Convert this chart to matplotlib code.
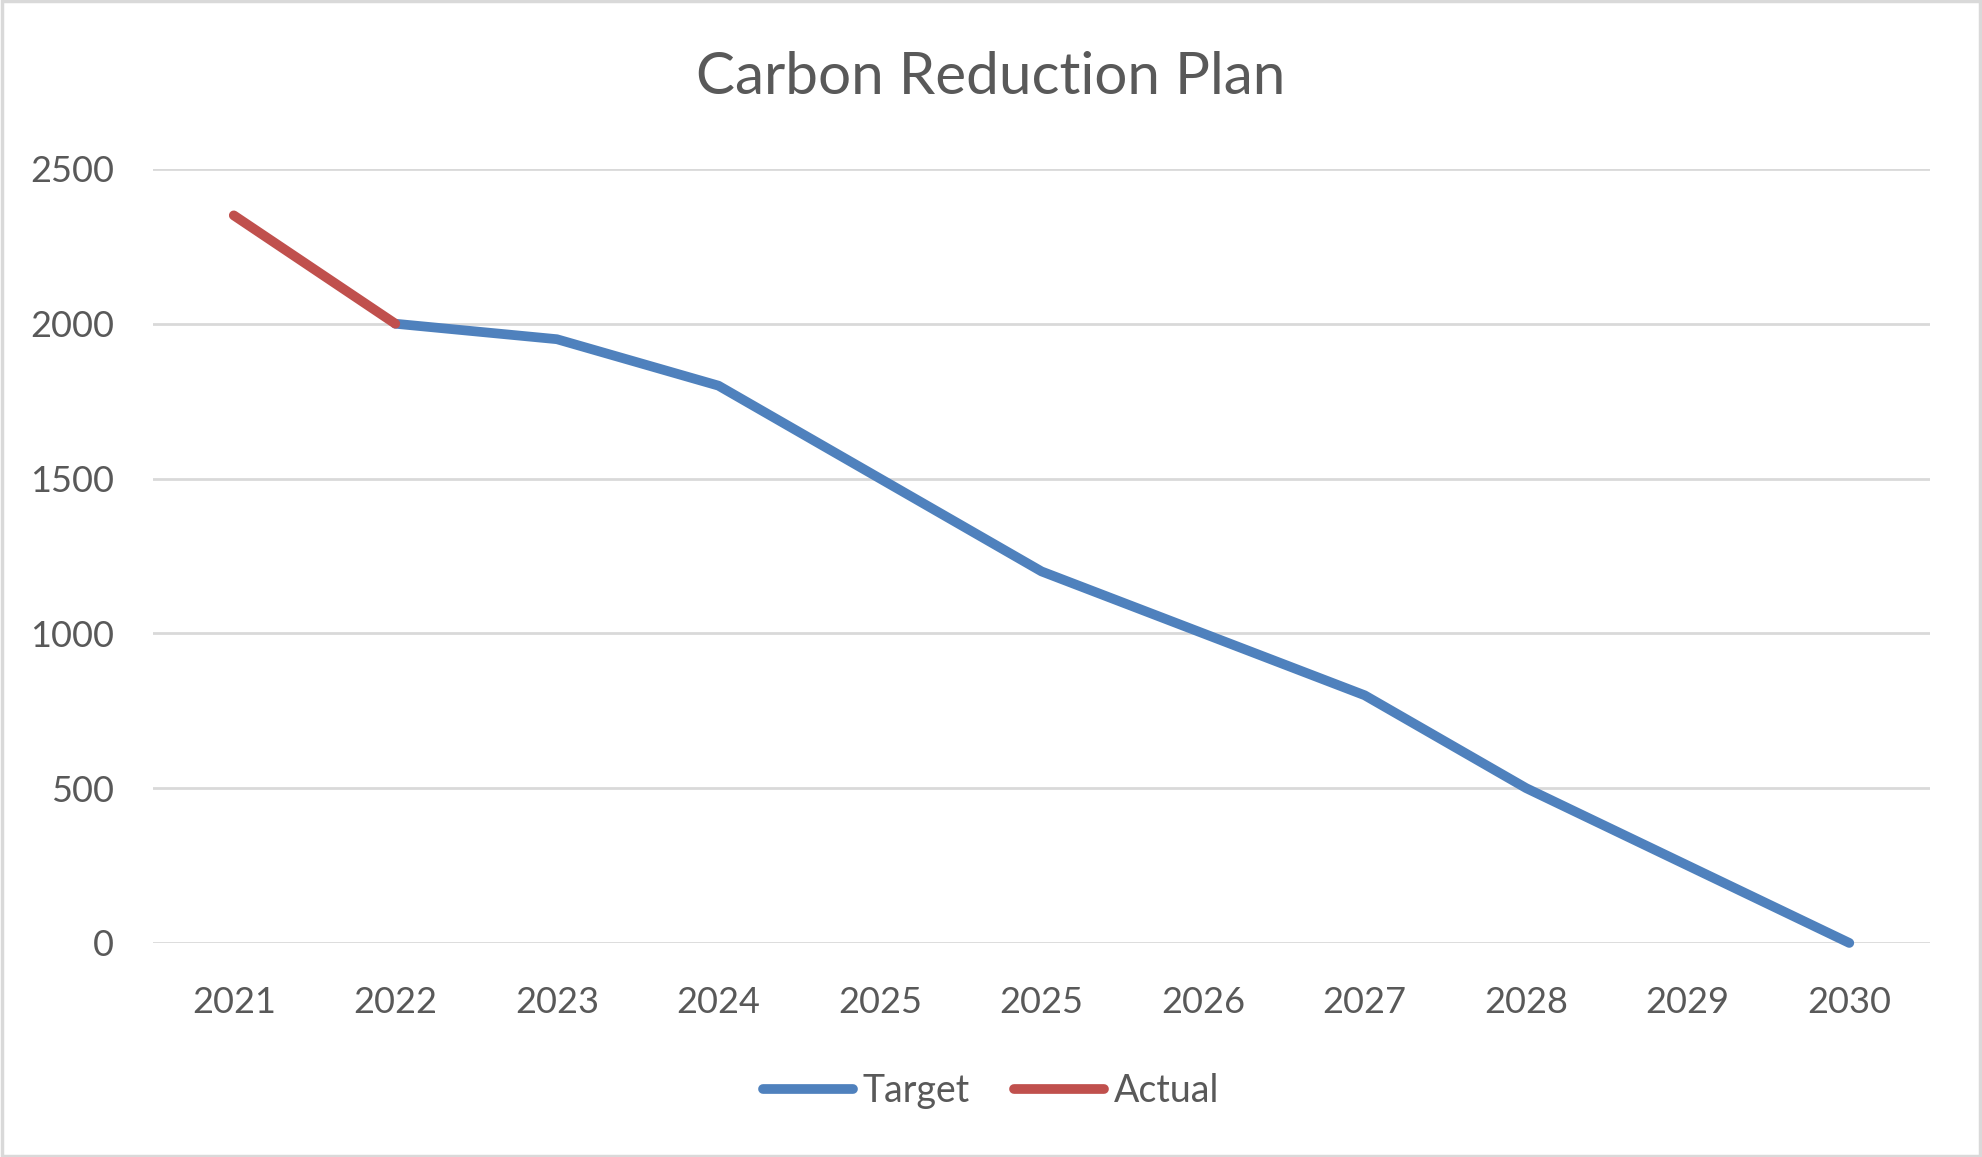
import matplotlib.pyplot as plt
from matplotlib.patches import Rectangle

# data
years = ['2021', '2022', '2023', '2024', '2025', '2025', '2026', '2027', '2028', '2029', '2030']
target = [None, 2000, 1950, 1800, 1500, 1200, 1000, 800, 500, 250, 0]
actual = [2350, 2000, None, None, None, None, None, None, None, None, None]

BLUE = '#4F81BD'
RED = '#C0504D'
GRID = '#D9D9D9'
TEXT = '#595959'

plt.rcParams['font.family'] = ['Lato', 'DejaVu Sans']

fig = plt.figure(figsize=(19.82, 11.57), dpi=100)
ax = fig.add_axes([0.0772, 0.185, 0.8966, 0.669])

x = list(range(len(years)))
t = [float('nan') if v is None else v for v in target]
a = [float('nan') if v is None else v for v in actual]
ax.plot(x, t, color=BLUE, lw=7, solid_capstyle='round', solid_joinstyle='round', label='Target')
ax.plot(x, a, color=RED, lw=7, solid_capstyle='round', solid_joinstyle='round', label='Actual')

ax.set_xlim(-0.5, len(years) - 0.5)
ax.set_ylim(0, 2500)
ax.set_yticks(range(0, 2501, 500))
ax.set_xticks(x)
ax.set_xticklabels(years)
ax.grid(axis='y', color=GRID, lw=2)
ax.set_axisbelow(True)
for s in ax.spines.values():
    s.set_visible(False)
ax.tick_params(length=0, labelsize=26, colors=TEXT)
ax.tick_params(axis='x', pad=31)
ax.tick_params(axis='y', pad=28)
for ln in ax.lines:
    ln.set_clip_on(False)

fig.text(0.5, 1 - 78 / 1157, 'Carbon Reduction Plan', ha='center', va='center',
         fontsize=42, color=TEXT)

leg = fig.legend(loc='center', bbox_to_anchor=(0.5, 0.057), ncol=2, frameon=False,
                 fontsize=27, handlelength=2.4, handletextpad=0.25, columnspacing=1.2)
for txt in leg.get_texts():
    txt.set_color(TEXT)
for h in leg.legend_handles:
    h.set_solid_capstyle('round')

fig.patches.append(Rectangle((0.001, 0.001), 0.998, 0.998, transform=fig.transFigure,
                             fill=False, edgecolor=GRID, lw=2.5))

fig.savefig('out.png', dpi=100)
